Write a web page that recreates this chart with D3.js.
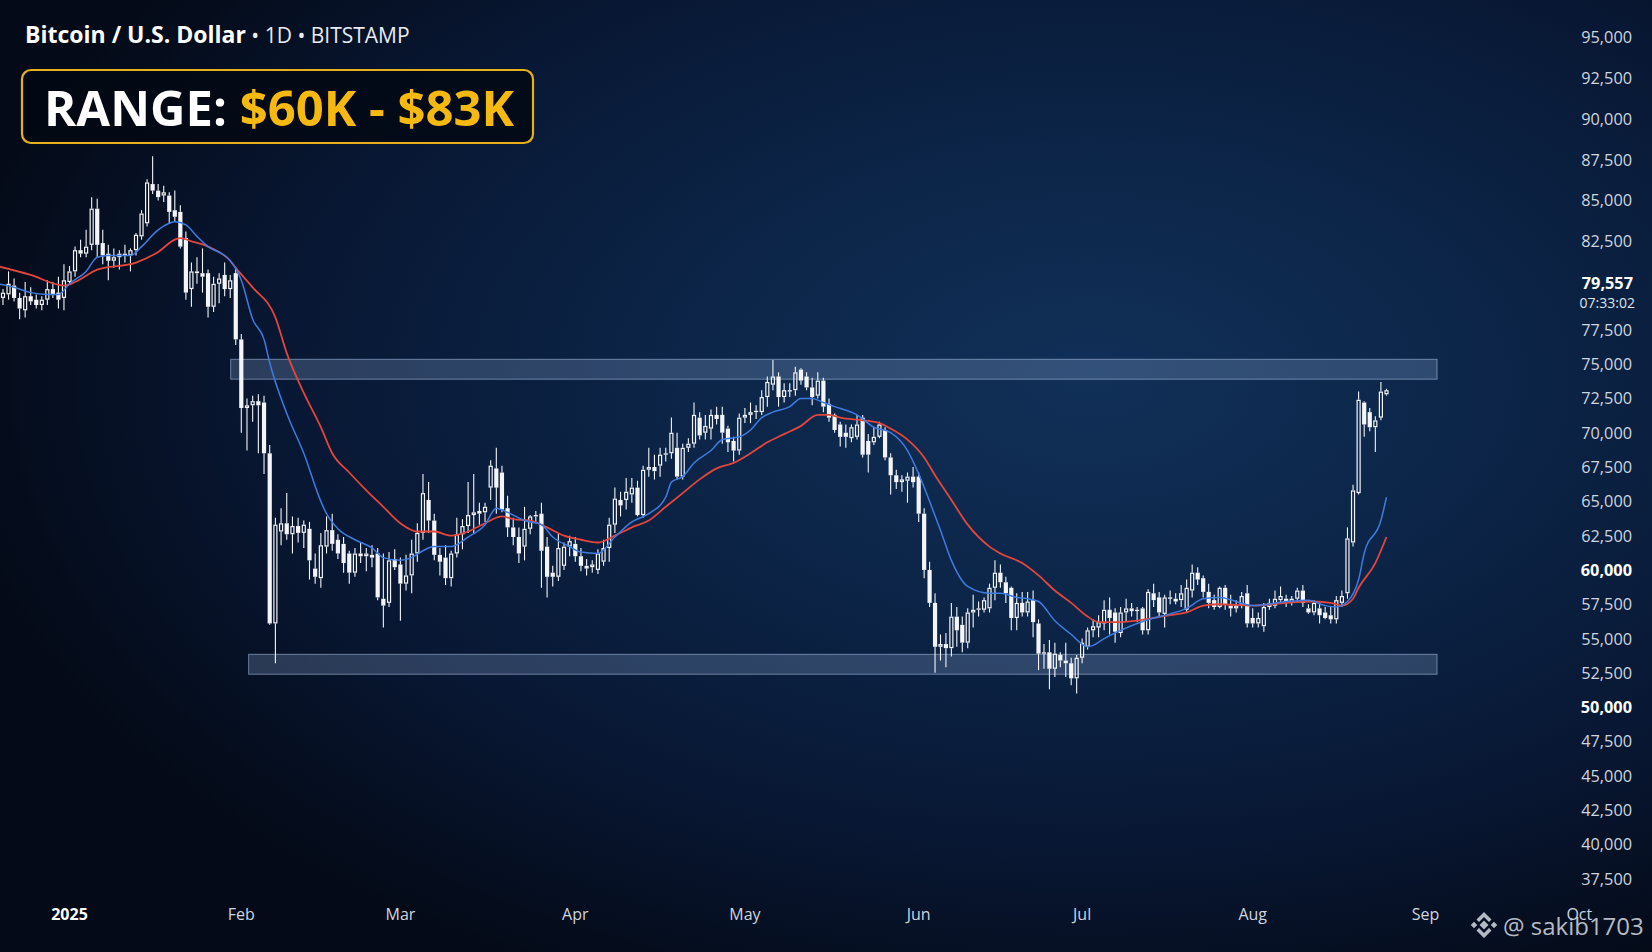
<!DOCTYPE html>
<html><head><meta charset="utf-8">
<script src="https://cdn.jsdelivr.net/npm/d3@7"></script>
<style>html,body{margin:0;padding:0;background:#050b18;overflow:hidden}svg{display:block}</style>
</head><body><svg id="chart" width="1652" height="952"></svg>
<script>
// ---------------- DATA ----------------
const startDate = "2024-12-19";           // first candle, daily bars
// [open, high, low, close] in thousands of USD
const ohlc = [
[79.9,80.3,79.1,79.3],[79.3,79.8,78.9,79.6],[79.5,80.8,79.2,80.1],[80.0,80.4,79.1,79.3],[79.3,79.6,78.1,78.7],[78.6,80.2,78.2,79.4],[79.4,79.9,78.9,79.1],[79.2,79.5,78.7,78.9],[78.9,79.4,78.6,79.2],[79.2,80.3,78.9,79.8],
[79.8,80.2,79.3,79.5],[79.6,80.5,78.7,79.2],[79.3,81.2,78.6,80.3],[80.2,81.1,80.1,80.8],[80.8,82.2,80.5,82.0],[82.0,82.6,81.6,81.8],[81.8,83.2,81.6,82.2],[82.3,85.2,82.0,84.5],[84.5,85.1,81.6,82.3],[82.4,83.2,81.2,81.7],
[81.8,82.3,80.3,81.4],[81.4,82.1,81.0,81.6],[81.6,82.0,80.9,81.8],[81.8,82.3,81.3,81.7],[81.7,82.1,80.8,82.0],[82.0,83.0,81.7,82.9],[82.8,84.4,82.6,84.2],[83.6,86.3,83.4,86.1],[86.0,87.7,85.4,85.6],[85.6,86.0,85.0,85.2],
[85.3,85.9,84.9,85.5],[85.3,85.5,83.6,84.3],[84.4,85.6,83.7,84.0],[84.3,84.7,82.1,82.2],[82.7,83.1,79.2,79.6],[79.8,81.3,78.8,80.8],[80.8,81.6,80.1,80.7],[80.7,82.1,79.6,80.5],[80.7,80.9,78.2,78.8],[78.8,80.5,78.5,80.1],
[80.1,80.7,79.0,80.4],[80.6,81.3,79.4,79.8],[79.8,80.6,79.3,80.3],[80.7,81.0,76.4,76.8],[76.8,77.2,70.0,71.8],[71.8,72.5,68.7,72.0],[72.0,72.7,70.8,72.3],[72.3,72.8,68.5,72.0],[72.2,72.7,67.0,68.5],[68.5,69.1,56.0,56.1],
[56.1,63.8,53.2,63.3],[62.8,64.5,61.8,63.4],[63.4,65.6,62.2,62.6],[62.6,63.9,61.2,63.2],[63.2,63.8,62.0,62.7],[62.7,63.6,61.6,63.3],[63.0,63.5,59.3,60.7],[60.1,61.2,59.0,59.5],[59.4,62.7,58.7,61.8],
[61.7,63.9,61.2,62.9],[62.9,64.1,61.4,61.9],[62.2,62.6,60.8,61.2],[61.9,62.4,59.8,60.5],[61.2,61.4,59.0,59.8],[59.8,61.6,59.5,61.2],[61.2,62.0,60.5,61.0],[61.0,61.6,59.9,61.2],[61.1,61.8,60.2,60.9],[61.2,61.6,57.8,58.0],
[57.9,61.2,55.8,57.4],[57.6,61.3,57.3,60.7],[60.8,61.5,60.0,60.2],[60.4,60.9,56.3,59.0],[59.0,61.1,58.5,59.6],[59.6,62.2,58.3,61.2],[61.2,63.4,60.6,62.7],[62.7,67.0,62.2,65.6],[65.1,66.4,62.7,63.6],[63.6,64.1,60.7,61.1],
[61.1,61.6,59.6,60.6],[60.9,61.8,58.9,59.4],[59.4,61.4,58.8,61.2],[61.2,63.8,60.9,62.6],[62.6,63.7,61.5,63.2],[63.2,66.4,62.7,64.0],[64.0,67.0,62.7,64.2],[64.3,64.9,63.3,64.1],[64.2,64.9,63.5,64.6],[66.0,68.0,65.1,67.6],
[67.4,68.9,64.1,66.0],[67.1,67.6,64.2,64.4],[64.5,65.4,62.4,63.1],[63.1,63.8,61.8,62.4],[62.4,63.1,60.5,61.2],[61.7,64.6,60.7,63.0],[63.0,64.0,62.6,63.9],[63.9,64.3,63.4,64.0],[64.1,64.9,58.7,61.4],
[61.7,62.4,58.0,59.5],[59.8,60.3,58.8,59.5],[59.5,62.7,59.2,61.6],[60.3,62.0,60.0,61.7],[61.7,62.5,61.0,62.1],[61.9,62.4,60.6,61.0],[61.0,61.6,59.9,60.3],[60.3,60.8,59.6,60.1],[60.2,60.7,59.8,60.4],[60.0,61.5,59.7,61.2],
[60.6,62.2,60.3,61.6],[61.6,63.8,60.6,63.3],[63.3,66.0,62.7,65.2],[65.1,65.7,63.9,64.7],[65.1,66.7,64.4,65.7],[65.5,66.7,64.9,66.0],[66.0,66.5,63.9,64.0],[64.0,67.6,63.8,67.3],[67.3,68.9,66.8,67.5],[67.5,68.4,66.6,67.2],
[67.6,68.9,66.8,68.4],[68.4,68.9,67.9,68.5],[68.5,71.1,68.1,70.0],[68.9,70.0,66.6,66.8],[66.8,69.2,66.6,68.9],[68.9,69.6,68.6,69.2],[69.2,72.2,68.9,71.3],[71.1,71.5,69.5,69.8],[70.0,71.3,69.5,70.5],[70.3,71.7,69.5,71.3],
[71.3,71.9,70.6,71.0],[71.3,71.9,69.2,70.0],[70.3,70.5,68.6,69.3],[69.4,69.7,67.9,68.7],[68.7,71.4,68.4,71.1],[71.1,71.8,70.7,71.3],[71.3,72.2,70.7,71.5],[71.5,72.0,71.0,71.6],[71.5,73.1,71.3,72.6],[72.6,74.1,71.9,73.7],
[73.5,75.3,73.1,74.1],[74.1,74.4,71.9,72.6],[72.6,73.6,72.2,73.1],[73.1,73.6,72.6,73.0],[73.1,74.8,72.7,74.4],[74.6,74.7,73.5,73.8],[74.1,74.4,73.1,73.3],[73.3,74.0,72.0,72.6],[72.7,74.4,72.5,73.8],[73.8,74.0,71.5,71.9],
[72.1,72.5,70.8,71.1],[71.3,71.4,70.0,70.2],[70.6,70.8,69.0,69.7],[70.0,70.6,68.9,69.7],[69.6,70.6,69.3,70.4],[69.7,71.3,69.5,70.6],[71.1,71.3,68.2,68.4],[69.4,69.9,67.1,68.4],[69.3,70.4,69.1,69.7],[69.7,70.8,69.6,70.6],
[70.2,70.4,68.0,68.2],[68.2,68.5,65.5,66.9],[66.9,67.3,65.9,66.4],[66.4,66.9,65.7,66.6],[66.5,67.1,64.9,66.8],[66.8,67.5,66.0,66.4],[66.8,67.1,63.5,64.1],[64.1,64.5,59.4,60.0],[60.0,60.6,57.3,57.6],[57.6,58.3,52.5,54.4],
[54.4,55.3,53.4,54.6],[54.6,55.4,52.9,54.3],[54.3,57.6,53.7,56.6],[56.6,57.3,54.4,55.6],[56.0,56.6,54.0,54.7],[54.7,57.2,54.3,56.9],[56.9,58.2,55.8,57.1],[57.1,57.7,56.6,57.2],[57.1,58.0,56.9,57.8],[57.2,59.0,56.9,58.7],[58.7,60.7,57.8,59.8],
[59.8,60.4,58.7,59.1],[59.1,59.5,57.6,58.3],[58.7,58.8,55.6,56.5],[56.5,58.3,55.6,57.6],[57.6,58.4,56.6,56.9],[56.9,58.4,56.6,57.7],[57.8,58.5,55.1,56.2],[56.1,56.4,52.7,53.9],[53.9,54.6,52.8,54.0],[54.0,54.9,51.3,52.8],
[52.8,54.7,52.2,53.9],[53.8,54.0,52.9,53.4],[53.4,54.7,52.2,53.2],[53.2,53.6,51.6,52.1],[52.1,53.8,51.0,53.6],[53.6,55.0,53.2,54.7],[54.4,55.8,54.2,55.6],[55.6,56.4,55.1,55.9],[55.8,56.7,55.1,56.2],[56.1,57.8,55.6,57.1],
[57.1,58.0,55.3,56.5],[56.9,57.2,54.7,55.5],[55.4,57.3,55.1,56.9],[56.9,57.9,56.2,57.2],[57.2,57.6,56.6,57.0],[57.0,57.3,56.2,57.1],[57.2,57.3,55.3,55.6],[55.6,58.6,55.3,58.4],[58.3,59.0,57.3,57.8],[58.0,58.4,56.6,56.9],
[56.8,58.2,55.8,58.0],[58.0,58.5,57.5,57.9],[57.9,58.3,57.5,57.7],[57.8,58.9,57.3,58.3],[57.1,59.3,56.9,58.7],[58.5,60.4,58.0,59.8],[59.8,60.2,58.9,59.3],[59.4,59.6,58.0,58.4],[58.4,59.0,57.2,57.6],[57.8,58.2,57.1,57.3],
[57.3,58.8,57.2,58.7],[58.7,58.9,57.1,57.5],[57.4,58.2,56.6,57.2],[57.2,57.8,56.9,57.4],[57.4,58.4,57.2,58.1],[58.3,58.9,55.8,56.1],[56.5,57.2,55.8,56.1],[56.1,56.9,55.8,56.5],[55.9,57.6,55.5,57.3],[57.3,57.9,57.1,57.6],
[57.4,58.5,57.2,57.9],[57.8,58.8,57.6,58.1],[57.9,58.2,57.3,57.6],[57.6,58.1,57.4,57.9],[57.9,58.7,57.7,58.5],[58.5,58.9,57.3,57.6],[57.2,57.5,56.8,56.9],[56.9,57.8,56.7,57.6],[57.2,57.6,56.1,56.7],[56.9,57.3,56.4,56.5],
[56.7,57.3,56.1,56.4],[56.4,58.1,56.1,57.8],[57.6,58.5,57.3,58.1],[58.3,63.1,57.9,62.3],[62.0,66.2,61.7,65.8],[65.6,73.0,65.5,72.4],[72.2,72.3,69.7,70.6],[71.5,71.8,70.1,70.4],[70.4,71.2,68.6,70.9],
[71.1,73.7,70.9,73.0],[72.8,73.2,72.7,73.1]
];
// moving averages: [bar index, value in thousands]
const maFast = [[0,80.1],[3,79.9],[6,79.6],[9,79.5],[11,79.5],[13,80.1],[16,80.8],[18,81.6],[20,81.7],[24,81.7],[26,82.2],[29,83.2],[31,83.6],[32,83.7],[34,83.5],[36,82.8],[38,82.2],[41,81.7],[42,81.4],[44,80.3],[46,78.1],[48,76.8],[49,75.1],[52,71.4],[55,68.5],[58,65.0],[59,64.1],[61,63.0],[64,62.2],[67,61.6],[69,60.9],[72,60.7],[74,60.9],[76,61.4],[78,61.7],[81,61.7],[84,62.4],[87,63.3],[89,64.5],[91,64.2],[94,63.6],[97,63.3],[99,62.4],[102,61.7],[104,61.3],[107,61.2],[110,62.4],[113,63.5],[116,64.1],[119,65.3],[120,66.4],[122,66.8],[124,67.8],[127,68.7],[129,69.5],[132,69.7],[134,70.2],[136,71.1],[138,71.5],[141,71.9],[143,72.5],[145,72.5],[147,72.2],[149,71.9],[153,71.3],[156,70.4],[159,70.0],[162,68.7],[164,67.0],[166,65.0],[168,62.9],[170,60.7],[173,58.8],[177,58.3],[179,58.3],[182,58.0],[184,57.9],[186,57.7],[189,56.3],[192,55.3],[195,54.4],[196,54.5],[198,55.0],[201,55.6],[204,56.1],[207,56.5],[210,56.8],[213,57.2],[216,57.9],[219,58.0],[222,57.7],[225,57.4],[231,57.7],[235,57.8],[238,57.4],[240,57.3],[242,57.7],[244,59.3],[245,61.2],[248,63.6],[249,65.3]];
const maSlow = [[0,81.1],[6,80.6],[12,80.0],[14,80.2],[18,80.9],[25,81.3],[29,81.9],[32,82.6],[33,82.7],[35,82.5],[38,82.2],[42,81.4],[43,81.0],[46,79.9],[50,78.2],[52,75.8],[55,72.9],[58,70.4],[60,68.5],[63,67.1],[66,65.8],[69,64.6],[72,63.4],[75,62.8],[78,62.8],[81,62.5],[84,62.8],[87,63.4],[90,63.9],[92,63.7],[95,63.6],[98,63.1],[101,62.5],[104,62.2],[107,62.0],[110,62.5],[113,63.1],[116,63.6],[119,64.6],[122,65.6],[125,66.6],[128,67.4],[131,67.8],[134,68.5],[137,69.3],[140,69.9],[143,70.5],[146,71.3],[148,71.3],[150,71.1],[154,70.9],[157,70.7],[159,70.3],[162,69.5],[165,68.2],[167,66.9],[170,65.1],[173,63.3],[177,61.7],[179,61.2],[183,60.5],[186,59.6],[189,58.5],[192,57.6],[195,56.6],[197,56.2],[201,56.2],[204,56.3],[207,56.5],[210,56.7],[213,56.9],[216,57.4],[219,57.5],[225,57.4],[231,57.6],[235,57.7],[239,57.6],[241,57.4],[243,57.9],[244,58.7],[247,60.5],[249,62.4]];
// range zones: [from, to, low, high] (prices in thousands)
const rangeBands = [
  ["2025-01-30T02:00Z","2025-09-03T06:00Z",73.9,75.35],
  ["2025-02-02T07:00Z","2025-09-03T06:00Z",52.4,53.85]
];
const priceTicks = [95000,92500,90000,87500,85000,82500,77500,75000,72500,70000,67500,65000,62500,60000,57500,55000,52500,50000,47500,45000,42500,40000,37500];
const boldTicks = [60000,50000];
const lastPrice = 79557;
const countdown = "07:33:02";
const monthTicks = ["2025-01-01","2025-02-01","2025-03-01","2025-04-01","2025-05-01","2025-06-01","2025-07-01","2025-08-01","2025-09-01","2025-10-01"];
const monthLabels = ["2025","Feb","Mar","Apr","May","Jun","Jul","Aug","Sep","Oct"];
const titleMain = "Bitcoin / U.S. Dollar";
const titleSub = " \u2022 1D \u2022 BITSTAMP";
const boxLabel = "RANGE: ";
const boxValue = "$60K - $83K";
const watermark = "@ sakib1703";

// ---------------- CHART ----------------
const W = 1652, H = 952;
const svg = d3.select("#chart");
const FONT = "'Open Sans', 'Noto Sans', sans-serif";

const defs = svg.append("defs");
const rg = defs.append("radialGradient").attr("id","bg")
  .attr("cx","66%").attr("cy","40%").attr("r","70%");
[[0,"#113058"],[0.35,"#0c2548"],[0.7,"#081733"],[1,"#040a17"]].forEach(([o,c])=>
  rg.append("stop").attr("offset",o).attr("stop-color",c));
svg.append("rect").attr("width",W).attr("height",H).attr("fill","url(#bg)");

const parseDay = d3.utcParse("%Y-%m-%d");
const start = parseDay(startDate);
// time axis as drawn by the chart: one stop per month label
const x = d3.scaleUtc()
  .domain(monthTicks.map(parseDay))
  .range([69.5, 241.3, 400.4, 575.3, 744.9, 918.7, 1082.1, 1252.7, 1425.5, 1579.3]);
const y = d3.scaleLinear().domain([37500, 77500, 82500, 95000]).range([878.7, 329.8, 241.3, 36.9]);

const candles = ohlc.map((d,i)=>({date:d3.utcDay.offset(start,i), o:d[0]*1000, h:d[1]*1000, l:d[2]*1000, c:d[3]*1000}));

// range bands
svg.append("g").selectAll("rect").data(rangeBands).join("rect")
  .attr("x", d=>x(new Date(d[0])))
  .attr("width", d=>x(new Date(d[1]))-x(new Date(d[0])))
  .attr("y", d=>y(d[3]*1000))
  .attr("height", d=>y(d[2]*1000)-y(d[3]*1000))
  .attr("fill","rgba(150,178,222,0.25)")
  .attr("stroke","rgba(175,198,232,0.55)").attr("stroke-width",1);

// candles (hollow up, filled down)
const CW = 4.2, COL = "#f3f5f9";
const cg = svg.append("g");
candles.forEach(d=>{
  const cx = x(d.date);
  const top = Math.max(d.o,d.c), bot = Math.min(d.o,d.c);
  const yt = y(top), yb = y(bot);
  cg.append("line").attr("x1",cx).attr("x2",cx).attr("y1",y(d.h)).attr("y2",yt)
    .attr("stroke",COL).attr("stroke-width",1.1);
  cg.append("line").attr("x1",cx).attr("x2",cx).attr("y1",yb).attr("y2",y(d.l))
    .attr("stroke",COL).attr("stroke-width",1.1);
  const hgt = Math.max(1.2, yb-yt);
  if (d.c >= d.o && hgt > 2.5) {
    cg.append("rect").attr("x",cx-CW/2+0.6).attr("width",CW-1.2)
      .attr("y",yt+0.6).attr("height",hgt-1.2)
      .attr("fill","none").attr("stroke",COL).attr("stroke-width",1.2);
  } else {
    cg.append("rect").attr("x",cx-CW/2).attr("width",CW)
      .attr("y",yt).attr("height",hgt).attr("fill",COL);
  }
});

// moving averages
const maLine = d3.line()
  .x(d=>x(d3.utcDay.offset(start,d[0])))
  .y(d=>y(d[1]*1000))
  .curve(d3.curveMonotoneX);
svg.append("path").datum(maSlow).attr("d",maLine)
  .attr("fill","none").attr("stroke","#e2463d").attr("stroke-width",1.8);
svg.append("path").datum(maFast).attr("d",maLine)
  .attr("fill","none").attr("stroke","#3f7be0").attr("stroke-width",1.5);

// price axis (right)
const fmt = d3.format(",");
svg.append("g").selectAll("text").data(priceTicks).join("text")
  .attr("x",1632).attr("y",d=>y(d))
  .attr("text-anchor","end").attr("dominant-baseline","central")
  .attr("font-family",FONT).attr("font-size",16.3)
  .attr("font-weight",d=>boldTicks.includes(d)?"bold":"normal")
  .attr("fill",d=>boldTicks.includes(d)?"#ffffff":"#cfd5de")
  .text(d=>fmt(d));
svg.append("text").attr("x",1633).attr("y",y(lastPrice)-10)
  .attr("text-anchor","end").attr("dominant-baseline","central")
  .attr("font-family",FONT).attr("font-size",16.3).attr("font-weight","bold")
  .attr("fill","#ffffff").text(fmt(lastPrice));
svg.append("text").attr("x",1635).attr("y",y(lastPrice)+9)
  .attr("text-anchor","end").attr("dominant-baseline","central")
  .attr("font-family",FONT).attr("font-size",14)
  .attr("fill","#dfe4ea").text(countdown);

// time axis (bottom)
svg.append("g").selectAll("text").data(monthTicks).join("text")
  .attr("x",d=>x(parseDay(d))).attr("y",914)
  .attr("text-anchor","middle").attr("dominant-baseline","central")
  .attr("font-family",FONT).attr("font-size",16)
  .attr("font-weight",(d,i)=>i===0?"bold":"normal")
  .attr("fill",(d,i)=>i===0?"#ffffff":"#cfd5de")
  .text((d,i)=>monthLabels[i]);

// title
const t = svg.append("text").attr("x",25).attr("y",43).attr("font-family",FONT).attr("fill","#ffffff");
t.append("tspan").attr("font-size",23).attr("font-weight","bold").text(titleMain);
t.append("tspan").attr("font-size",21).attr("fill","#e8ebf0").text(titleSub);

// range box
svg.append("rect").attr("x",22).attr("y",70).attr("width",511).attr("height",73).attr("rx",9)
  .attr("fill","rgba(3,8,18,0.82)").attr("stroke","#e6b01c").attr("stroke-width",2.2);
const bt = svg.append("text").attr("x",44).attr("y",126).attr("font-family",FONT)
  .attr("font-size",49).attr("font-weight","bold");
bt.append("tspan").attr("fill","#ffffff").text(boxLabel);
bt.append("tspan").attr("fill","#f6b910").text(boxValue);

// watermark with simple Binance-style glyph
const wm = svg.append("g").attr("fill","#c9ced6").attr("opacity",0.9);
const lg = wm.append("g").attr("transform","translate(1484,925)");
lg.append("rect").attr("x",-3.2).attr("y",-3.2).attr("width",6.4).attr("height",6.4).attr("transform","rotate(45)");
lg.append("rect").attr("x",-2.3).attr("y",-2.3).attr("width",4.6).attr("height",4.6).attr("transform","translate(-10,0) rotate(45)");
lg.append("rect").attr("x",-2.3).attr("y",-2.3).attr("width",4.6).attr("height",4.6).attr("transform","translate(10,0) rotate(45)");
lg.append("path").attr("d","M0,-13 L7.5,-5.5 L5,-3 L0,-8 L-5,-3 L-7.5,-5.5 Z");
lg.append("path").attr("d","M0,13 L7.5,5.5 L5,3 L0,8 L-5,3 L-7.5,5.5 Z");
wm.append("text").attr("x",1503).attr("y",935).attr("font-family",FONT).attr("font-size",24)
  .text(watermark);
</script></body></html>
